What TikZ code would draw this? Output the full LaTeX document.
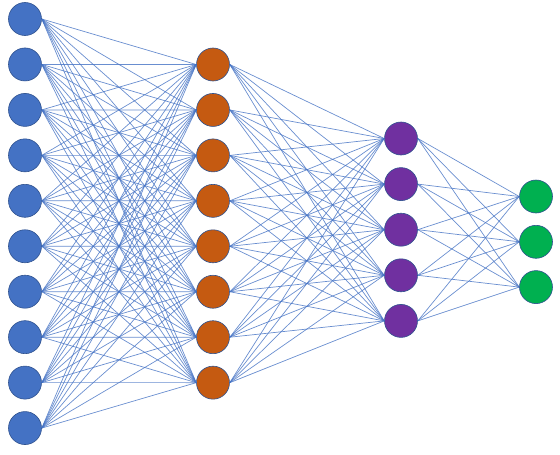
\documentclass[tikz,border=0pt]{standalone}
\definecolor{lblue}{HTML}{4472C4}
\definecolor{bblue}{HTML}{2F528F}
\definecolor{lorange}{HTML}{C55A11}
\definecolor{lpurple}{HTML}{7030A0}
\definecolor{lgreen}{HTML}{00B050}
\tikzset{
  neuron/.style={circle,minimum size=33pt,inner sep=0pt,draw=bblue,line width=0.6pt},
  inl/.style={neuron,fill=lblue},
  h1l/.style={neuron,fill=lorange},
  h2l/.style={neuron,fill=lpurple},
  outl/.style={neuron,fill=lgreen},
  wire/.style={draw=lblue,line width=0.7pt,opacity=0.8}
}
\begin{document}
\begin{tikzpicture}[x=1pt,y=-1pt]
\useasboundingbox (0,0) rectangle (560,455);
\foreach \i in {1,...,10} {
  \node[inl] (a\i) at (25,{19+(\i-1)*45.45}) {};
}
\foreach \i in {1,...,8} {
  \node[h1l] (b\i) at (213,{64.5+(\i-1)*45.45}) {};
}
\foreach \i in {1,...,5} {
  \node[h2l] (c\i) at (401,{138.5+(\i-1)*45.6}) {};
}
\foreach \i in {1,...,3} {
  \node[outl] (d\i) at (536,{196.5+(\i-1)*45.3}) {};
}
\begin{scope}[on background layer/.style={}]
\foreach \i in {1,...,10} \foreach \j in {1,...,8} \draw[wire] (a\i.east) -- (b\j.west);
\foreach \i in {1,...,8} \foreach \j in {1,...,5} \draw[wire] (b\i.east) -- (c\j.west);
\foreach \i in {1,...,5} \foreach \j in {1,...,3} \draw[wire] (c\i.east) -- (d\j.west);
\end{scope}
\end{tikzpicture}
\end{document}
